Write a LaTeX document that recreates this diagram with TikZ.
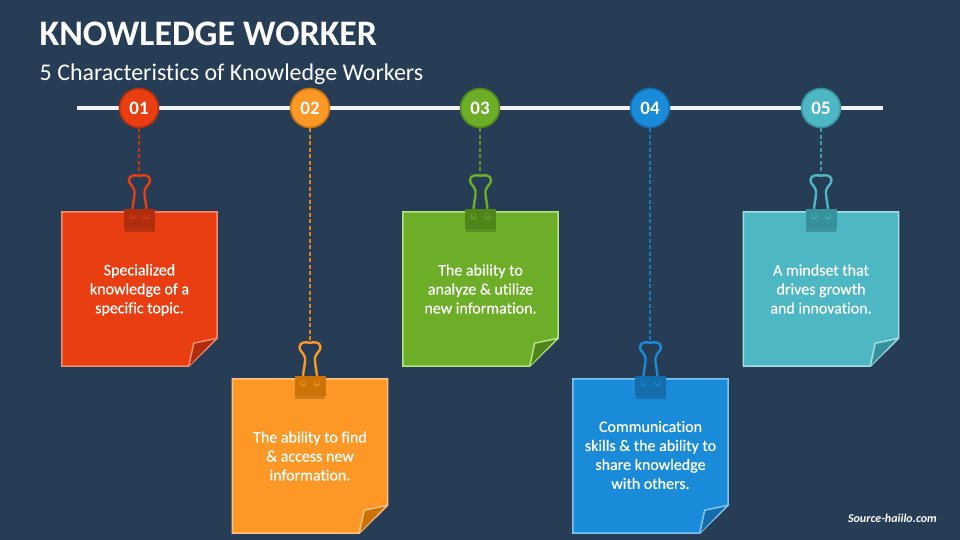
\documentclass[tikz,border=0pt]{standalone}
\usepackage{fontspec}
\setmainfont[Ligatures=NoCommon]{Carlito}
\newfontfamily\cardfont[FakeBold=0.5,Ligatures=NoCommon]{Carlito}
\usetikzlibrary{calc,backgrounds}
\definecolor{pagebg}{HTML}{273C55}
\definecolor{railc}{HTML}{F2F2F2}
\definecolor{redA}{HTML}{E93D12}\definecolor{redB}{HTML}{B02D0D}\definecolor{redC}{HTML}{F58C72}
\definecolor{oraA}{HTML}{FD9726}\definecolor{oraB}{HTML}{CC7308}\definecolor{oraC}{HTML}{FDC183}
\definecolor{greA}{HTML}{6DAE28}\definecolor{greB}{HTML}{4F851A}\definecolor{greC}{HTML}{B4E384}
\definecolor{bluA}{HTML}{1A8BD8}\definecolor{bluB}{HTML}{146DAB}\definecolor{bluC}{HTML}{82C5F0}
\definecolor{teaA}{HTML}{4DB7C4}\definecolor{teaB}{HTML}{36919D}\definecolor{teaC}{HTML}{A5DEE5}
\tikzset{
  x=1pt,y=-1pt,
  stepdot/.style={circle,minimum size=39pt,inner sep=0pt,line width=1.6pt,text=white,font=\fontsize{19}{19}\selectfont\bfseries},
  notebox/.style={minimum width=155pt,minimum height=154pt,inner sep=0pt},
  notetext/.style={inner sep=0pt,align=center,text=white,font=\fontsize{16}{19}\selectfont\cardfont},
  tether/.style={line width=1.5pt,dash pattern=on 4pt off 2.5pt},
  sheet/.style={line width=1.5pt,line join=miter},
  loopwire/.style={line width=2.4pt,line join=round,fill=none},
}
\begin{document}
\begin{tikzpicture}
\useasboundingbox (0,0) rectangle (960,540);
\begin{scope}[on background layer]
\fill[pagebg] (0,0) rectangle (960,540);
\end{scope}
\node[anchor=base west,inner sep=0pt,text=white,font=\fontsize{35.9}{36}\selectfont\bfseries] (title) at (39.5,46) {KNOWLEDGE WORKER};
\node[anchor=base west,inner sep=0pt,text=white,font=\fontsize{23.95}{24}\selectfont] (subtitle) at (39.5,81) {5 Characteristics of Knowledge Workers};
\coordinate (railL) at (77,108);
\coordinate (railR) at (883,108);
\draw[railc,line width=4pt] (railL) -- (railR);
\foreach \i/\cx/\nx/\ny/\tshift/\colA/\colB/\colC/\txt in {
 1/139/139.5/289/1/redA/redB/redC/{Specialized\\knowledge of a\\specific topic.},
 2/310/310/456/0/oraA/oraB/oraC/{The ability to find\\\& access new\\information.},
 3/480/480.5/289/0/greA/greB/greC/{The ability to\\analyze \& utilize\\new information.},
 4/650/650.5/456/-1/bluA/bluB/bluC/{Communication\\skills \& the ability to\\share knowledge\\with others.},
 5/821/821/289/0/teaA/teaB/teaC/{A mindset that\\drives growth\\and innovation.}}{
  \node[stepdot,fill=\colA,draw=\colB] (c\i) at (\cx,108) {0\i};
  \node[notebox] (n\i) at (\nx,\ny) {};
  \node[notetext] (t\i) at ($(n\i.center)+(0,\tshift)$) {\txt};
  \begin{scope}[on background layer]
    \draw[sheet,fill=\colA,draw=\colC]
      (n\i.north west) -- (n\i.north east) -- ($(n\i.south east)+(0,-28)$)
      -- ($(n\i.south east)+(-28.5,0)$) -- (n\i.south west) -- cycle;
    \fill[\colB] ($(n\i.south east)+(-23.5,-23)$) -- ($(n\i.south east)+(-2,-27.5)$) -- ($(n\i.south east)+(-27.5,-1)$) -- cycle;
    \draw[\colC,line width=1.5pt] ($(n\i.south east)+(0,-28)$) -- ($(n\i.south east)+(-23.5,-23)$) -- ($(n\i.south east)+(-28.5,0)$);
  \end{scope}
  \coordinate (top\i) at ($(n\i.north)+(0,-37)$);
  \draw[tether,draw=\colB!60!\colA] (c\i) -- (c\i |- top\i);
  \draw[loopwire,draw=\colA]
    ($(n\i.north)+(-7,-3)$) .. controls ($(n\i.north)+(-6,-12)$) and ($(n\i.north)+(-4.5,-17)$) .. ($(n\i.north)+(-5,-21)$)
    .. controls ($(n\i.north)+(-6,-26)$) and ($(n\i.north)+(-11,-28)$) .. ($(n\i.north)+(-10.5,-32)$)
    .. controls ($(n\i.north)+(-10,-37)$) and ($(n\i.north)+(-4,-37)$) .. ($(n\i.north)+(0,-36)$)
    .. controls ($(n\i.north)+(4,-37)$) and ($(n\i.north)+(10,-37)$) .. ($(n\i.north)+(10.5,-32)$)
    .. controls ($(n\i.north)+(11,-28)$) and ($(n\i.north)+(6,-26)$) .. ($(n\i.north)+(5,-21)$)
    .. controls ($(n\i.north)+(4.5,-17)$) and ($(n\i.north)+(6,-12)$) .. ($(n\i.north)+(7,-3)$);
  \fill[black,opacity=.18] ($(n\i.north)+(-15,17)$) rectangle ($(n\i.north)+(15,20)$);
  \fill[\colB] ($(n\i.north)+(-15.5,-3)$) rectangle ($(n\i.north)+(15.5,17)$);
  \fill[\colA!65!\colB] ($(n\i.north)+(-7,4.5)$) circle (3.2pt);
  \fill[\colA!65!\colB] ($(n\i.north)+(7,4.5)$) circle (3.2pt);
  \fill[\colB] ($(n\i.north)+(-7,3.7)$) circle (2pt);
  \fill[\colB] ($(n\i.north)+(7,3.7)$) circle (2pt);
}
\node[anchor=base east,inner sep=0pt,text=white,font=\fontsize{12}{12}\selectfont\bfseries\itshape] (source) at (937,522) {Source-haiilo.com};
\end{tikzpicture}
\end{document}
